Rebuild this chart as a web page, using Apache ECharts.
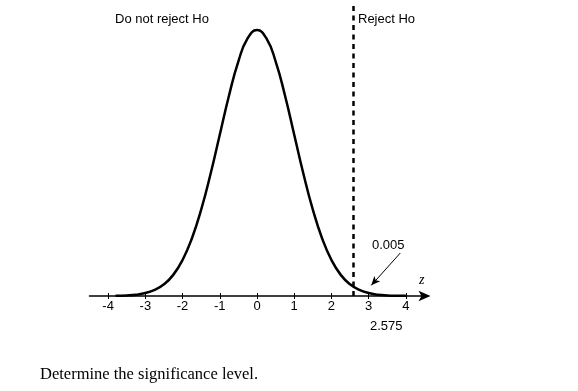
<!DOCTYPE html>
<html>
<head>
<meta charset="utf-8">
<script src="https://cdn.jsdelivr.net/npm/echarts@6/dist/echarts.min.js"></script>
<style>html,body{margin:0;padding:0;background:#fff}#c{width:578px;height:391px}</style>
</head>
<body>
<div id="c"></div>
<script>
// z values and curve heights
var zValues = [-3.8,-3.5,-3.25,-3,-2.75,-2.5,-2.25,-2,-1.75,-1.5,-1.25,-1,-0.75,-0.5,-0.25,0,0.25,0.5,0.75,1,1.25,1.5,1.75,2,2.25,2.5,2.75,3,3.25,3.5,3.75,4];
var density = [0.0003,0.0009,0.002,0.0044,0.0091,0.0175,0.0317,0.054,0.0863,0.1295,0.1826,0.242,0.3011,0.3521,0.3867,0.3989,0.3867,0.3521,0.3011,0.242,0.1826,0.1295,0.0863,0.054,0.0317,0.0175,0.0091,0.0044,0.002,0.0009,0.0004,0.0002];
var tickValues = [-4,-3,-2,-1,0,1,2,3,4];
var criticalZ = 2.575;
var tailArea = "0.005";
var regionLabels = ["Do not reject Ho", "Reject Ho"];
var question = "Determine the significance level.";

var curve = zValues.map(function(z,i){return [z, density[i]];});
var chart = echarts.init(document.getElementById('c'), null, {renderer:'canvas'});
var sans = 'Liberation Sans, Arial, sans-serif';
chart.setOption({
  animation:false,
  backgroundColor:'#fff',
  grid:{left:89.5, top:4, width:335, height:292},
  xAxis:[{
    type:'value', min:-4.5, max:4.5,
    axisLine:{show:true, lineStyle:{color:'#000', width:1.5}, symbol:['none','arrow'], symbolSize:[8,12], symbolOffset:[0,6]},
    axisTick:{show:true, length:3, customValues:tickValues, lineStyle:{color:'#000'}},
    axisLabel:{show:true, customValues:tickValues, color:'#000', fontFamily:sans, fontSize:13, margin:4},
    splitLine:{show:false}
  },{
    type:'value', min:-4.5, max:4.5, position:'bottom',
    axisLine:{show:false},
    axisTick:{show:true, inside:true, length:3, customValues:tickValues, lineStyle:{color:'#000'}},
    axisLabel:{show:false}, splitLine:{show:false}
  }],
  yAxis:{type:'value', min:0, max:0.438, show:false},
  series:[{
    type:'line', data:curve, smooth:true, symbol:'none',
    lineStyle:{color:'#000', width:2.5},
    markLine:{
      silent:true, animation:false,
      data:[
        [{coord:[criticalZ,0], symbol:'none', lineStyle:{type:[5,4.5], width:2.5, color:'#000'}},
         {coord:[criticalZ,0.438], symbol:'none'}],
        [{coord:[3.85,0.0645], symbol:'none', lineStyle:{type:'solid', width:1, color:'#000'}},
         {coord:[3.07,0.016], symbol:'arrow', symbolSize:[6,9]}]
      ],
      label:{show:false}
    }
  }],
  graphic:[
    {type:'text', left:115, top:13, style:{text:regionLabels[0], font:'13px '+sans, fill:'#000'}},
    {type:'text', left:358, top:13, style:{text:regionLabels[1], font:'13px '+sans, fill:'#000'}},
    {type:'text', left:372, top:239, style:{text:tailArea, font:'13px '+sans, fill:'#000'}},
    {type:'text', left:370, top:320, style:{text:String(criticalZ), font:'13px '+sans, fill:'#000'}},
    {type:'text', left:419, top:273, style:{text:'z', font:'italic 14px Liberation Serif, serif', fill:'#000'}},
    {type:'text', left:40, top:366, style:{text:question, font:'16.5px Liberation Serif, serif', fill:'#000'}}
  ]
});
</script>
</body>
</html>
